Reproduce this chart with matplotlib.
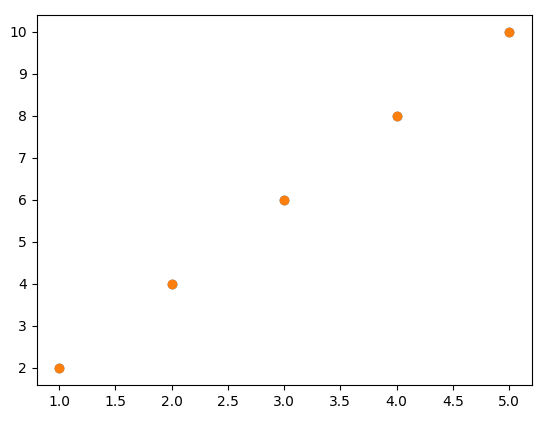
from matplotlib import pyplot as plt

x_vals = [1, 2, 3, 4, 5]
y_vals = [2, 4, 6, 8, 10]

fig = plt.figure(figsize=(5.6, 4.23), dpi=100)
ax = fig.add_axes([0.0652, 0.0903, 0.884, 0.874])

# first series sits under the second one
ax.plot(x_vals, y_vals, 'o', color='C0')
ax.plot(x_vals, y_vals, 'o', color='C1')

fig.savefig('out.png', dpi=100)
